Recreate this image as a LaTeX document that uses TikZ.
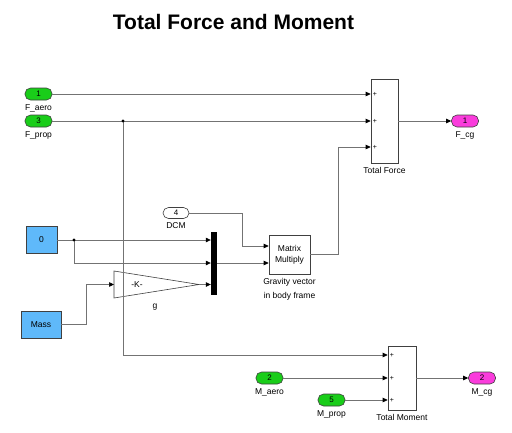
\documentclass[tikz,border=0pt]{standalone}
\usepackage{fontspec}
\setmainfont{Liberation Sans}
\usepackage{tikz}
\usetikzlibrary{arrows.meta,positioning,calc}
\definecolor{ingreen}{RGB}{25,205,25}
\definecolor{outpink}{RGB}{250,60,220}
\definecolor{constblue}{RGB}{95,185,250}
\tikzstyle{sig}=[draw=black!55, line width=0.7pt]
\tikzstyle{sigarrow}=[sig, -{Triangle[length=5pt,width=4.5pt,color=black]}]
\tikzstyle{block}=[draw=black!75, fill=white, line width=0.6pt, inner sep=0pt]
\tikzstyle{inport}=[block, rounded corners=5.5pt, fill=ingreen, minimum width=27pt, minimum height=12pt, font=\fontsize{8}{9}\selectfont]
\tikzstyle{outport}=[inport, fill=outpink]
\tikzstyle{dcmport}=[inport, fill=white, minimum width=26pt, minimum height=11pt]
\tikzstyle{constant}=[block, fill=constblue, minimum height=27pt, font=\fontsize{8.5}{10}\selectfont]
\tikzstyle{portlabel}=[inner sep=0pt, font=\fontsize{8.5}{10}\selectfont]
\tikzstyle{plus}=[inner sep=0pt, font=\fontsize{7}{8}\selectfont]
\newcommand{\sigPort}[5]{
	\node[#1] (#2) at #3 {#4};
	\node[portlabel, below=4pt of #2] (#2lbl) {#5};
}

\begin{document}
\begin{tikzpicture}[x=1pt, y=-1pt]
	\useasboundingbox (0,0) rectangle (512,432);
	\node[font=\bfseries\fontsize{21}{25}\selectfont] (title) at (233.5,22) {Total Force and Moment};
	\sigPort{inport}{faero}{(38.5,94)}{1}{F\_aero}
	\sigPort{inport}{fprop}{(38.5,121)}{3}{F\_prop}
	\sigPort{outport}{fcg}{(465,121)}{1}{F\_cg}
	\sigPort{inport}{maero}{(269.5,378)}{2}{M\_aero}
	\sigPort{inport}{mprop}{(331.5,400)}{5}{M\_prop}
	\sigPort{outport}{mcg}{(482,378)}{2}{M\_cg}
	\sigPort{dcmport}{dcm}{(176,213)}{4}{DCM}
	\node[block, minimum width=27pt, minimum height=84pt] (tf) at (384.5,121) {};
	\node[portlabel, below=4pt of tf] (tflbl) {Total Force};
	\node[block, minimum width=28pt, minimum height=64pt] (tm) at (402,378) {};
	\node[portlabel, below=4pt of tm] (tmlbl) {Total Moment};
	\node[block, minimum width=41pt, minimum height=39pt, align=center, font=\fontsize{8.5}{11}\selectfont] (mm) at (289.5,254.5) {Matrix\\Multiply};
	\node[portlabel, below=4pt of mm, align=center, font=\fontsize{8.5}{14}\selectfont] (mmlbl) {Gravity vector\\in body frame};
	\node[fill=black, minimum width=6pt, minimum height=63pt, inner sep=0pt] (mux) at (214,263) {};
	\node[constant, minimum width=31pt] (zero) at (41.5,240) {0};
	\node[constant, minimum width=40pt] (mass) at (41,324.5) {Mass};
	\draw[block] (114,271) -- (199,284.5) -- (114,298) -- cycle;
	\coordinate (gin) at (114,284.5);
	\coordinate (gout) at (199,284.5);
	\node[portlabel] (gain) at (137,285) {-K-};
	\node[portlabel] (glbl) at (155,307) {g};
	\foreach \s/\y in {1/27, 2/0, 3/-26}
		\coordinate (tf\s) at ([yshift=\y pt]tf.west);
	\foreach \s/\y in {1/23, 2/0, 3/-22}
		\coordinate (tm\s) at ([yshift=\y pt]tm.west);
	\coordinate (mm1) at ([yshift=8.5pt]mm.west);
	\coordinate (mm2) at ([yshift=-8.5pt]mm.west);
	\foreach \s in {1,2,3} {
		\node[plus, right=2pt of tf\s] {+};
		\node[plus, right=2pt of tm\s] {+};
	}
	\coordinate (j1) at (123,121);
	\coordinate (j2) at (74,240);
	\draw[sigarrow] (faero.east) -- (tf1);
	\draw[sigarrow] (fprop.east) -- (tf2);
	\draw[sigarrow] (tf.east) -- (fcg.west);
	\draw[sigarrow] (mm.east) -- ++(28,0) |- (tf3);
	\draw[sigarrow] (j1) |- (tm1);
	\draw[sigarrow] (maero.east) -- (tm2);
	\draw[sigarrow] (mprop.east) -- (tm3);
	\draw[sigarrow] (tm.east) -- (mcg.west);
	\draw[sigarrow] (dcm.east) -- ++(53,0) |- (mm1);
	\draw[sigarrow] (mux.east) -- (mm2);
	\draw[sig] (zero.east) -- (j2);
	\draw[sigarrow] (j2) -- (j2 -| mux.west);
	\draw[sigarrow] (j2) |- (mux.west);
	\draw[sigarrow] (gout) -- (gout -| mux.west);
	\draw[sigarrow] (mass.east) -- ++(25,0) |- (gin);
	\fill (j1) circle (1.6pt);
	\fill (j2) circle (1.6pt);
\end{tikzpicture}
\end{document}
